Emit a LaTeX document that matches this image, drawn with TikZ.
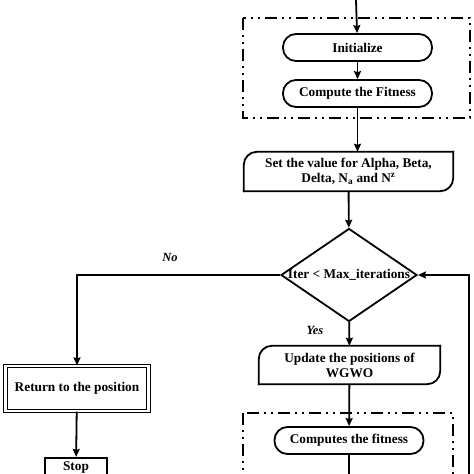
\documentclass[tikz,border=0pt]{standalone}
\usepackage{fontspec}
\setmainfont{Liberation Serif}
\usetikzlibrary{arrows.meta}
\usetikzlibrary{shapes.geometric}

\begin{document}
\begin{tikzpicture}[x=1pt,y=-1pt,
    font=\bfseries\fontsize{13.3}{15}\selectfont,
    >={Stealth[length=8pt,width=7pt,inset=1pt]},
    line/.style={line width=1.8pt},
    term/.style={draw,line width=1.8pt,rounded corners=13pt,minimum width=149pt,minimum height=27pt,inner sep=0pt},
    iobox/.style={minimum height=39pt,inner sep=0pt,align=center},
    dec/.style={draw,diamond,line width=1.8pt,inner sep=0pt,minimum width=136pt,minimum height=93pt},
    grp/.style={line width=1.6pt,dash pattern=on 12pt off 5pt on 2pt off 5pt on 2pt off 5pt}]
    \useasboundingbox (0,0) rectangle (474,474);
    \fill[white] (0,0) rectangle (474,474);

    % groups
    \draw[grp] (243,18) rectangle (470,118);
    \draw[grp] (243,413) rectangle (453,490);

    \coordinate (in) at (356,0);
    \node[term] (init) at (357.5,47.5) {Initialize};
    \node[term] (fit) at (357.5,93.5) {Compute the Fitness};
    \node[iobox,minimum width=209pt] (set) at (348.5,171.5) {Set the value for Alpha, Beta,\\Delta, N\textsubscript{a} and N\textsuperscript{z}};
    \node[dec] (iter) at (349,275) {\makebox[0pt]{Iter < Max\_iterations}};
    \node[iobox,minimum width=181pt,minimum height=38pt] (upd) at (349.5,365) {Update the positions of\\WGWO};
    \node[term] (cfit) at (349,440.5) {Computes the fitness};
    \coordinate (out) at (349,480);
    \coordinate (back) at (469,480);
    \node[draw,line width=1.2pt,double,double distance=2.5pt,minimum width=143pt,minimum height=45pt] (ret) at (77,388.5) {Return to the position};
    \node[draw,line width=2.2pt,minimum width=62pt,minimum height=20pt,inner sep=0pt] (stop) at (76,468) {Stop};

    % io boxes with two rounded corners
    \foreach \n in {set,upd}{
        \draw[line,line cap=rect,rounded corners=13pt] (\n.south west) |- (\n.north east);
        \draw[line,line cap=rect,rounded corners=13pt] (\n.north east) |- (\n.south west);
    }

    \draw[line,->] (in) -- (init);
    \draw[line,->] (init) -- (fit);
    \draw[line,->] (fit.south) -- (fit.south |- set.north);
    \draw[line,->] (set) -- (iter);
    \draw[line,->] (iter) -- (upd);
    \draw[line,->] (upd) -- (cfit);
    \draw[line] (cfit) -- (out);
    \draw[line,->] (back) |- (iter.east);
    \draw[line,->] (iter.west) -| (ret.north);
    \draw[line,->] (ret) -- (stop);

    \node[font=\bfseries\itshape\fontsize{12.5}{14}\selectfont] (no) at (170,257) {No};
    \node[font=\bfseries\itshape\fontsize{12.5}{14}\selectfont] (yes) at (315,330) {Yes};
\end{tikzpicture}
\end{document}
